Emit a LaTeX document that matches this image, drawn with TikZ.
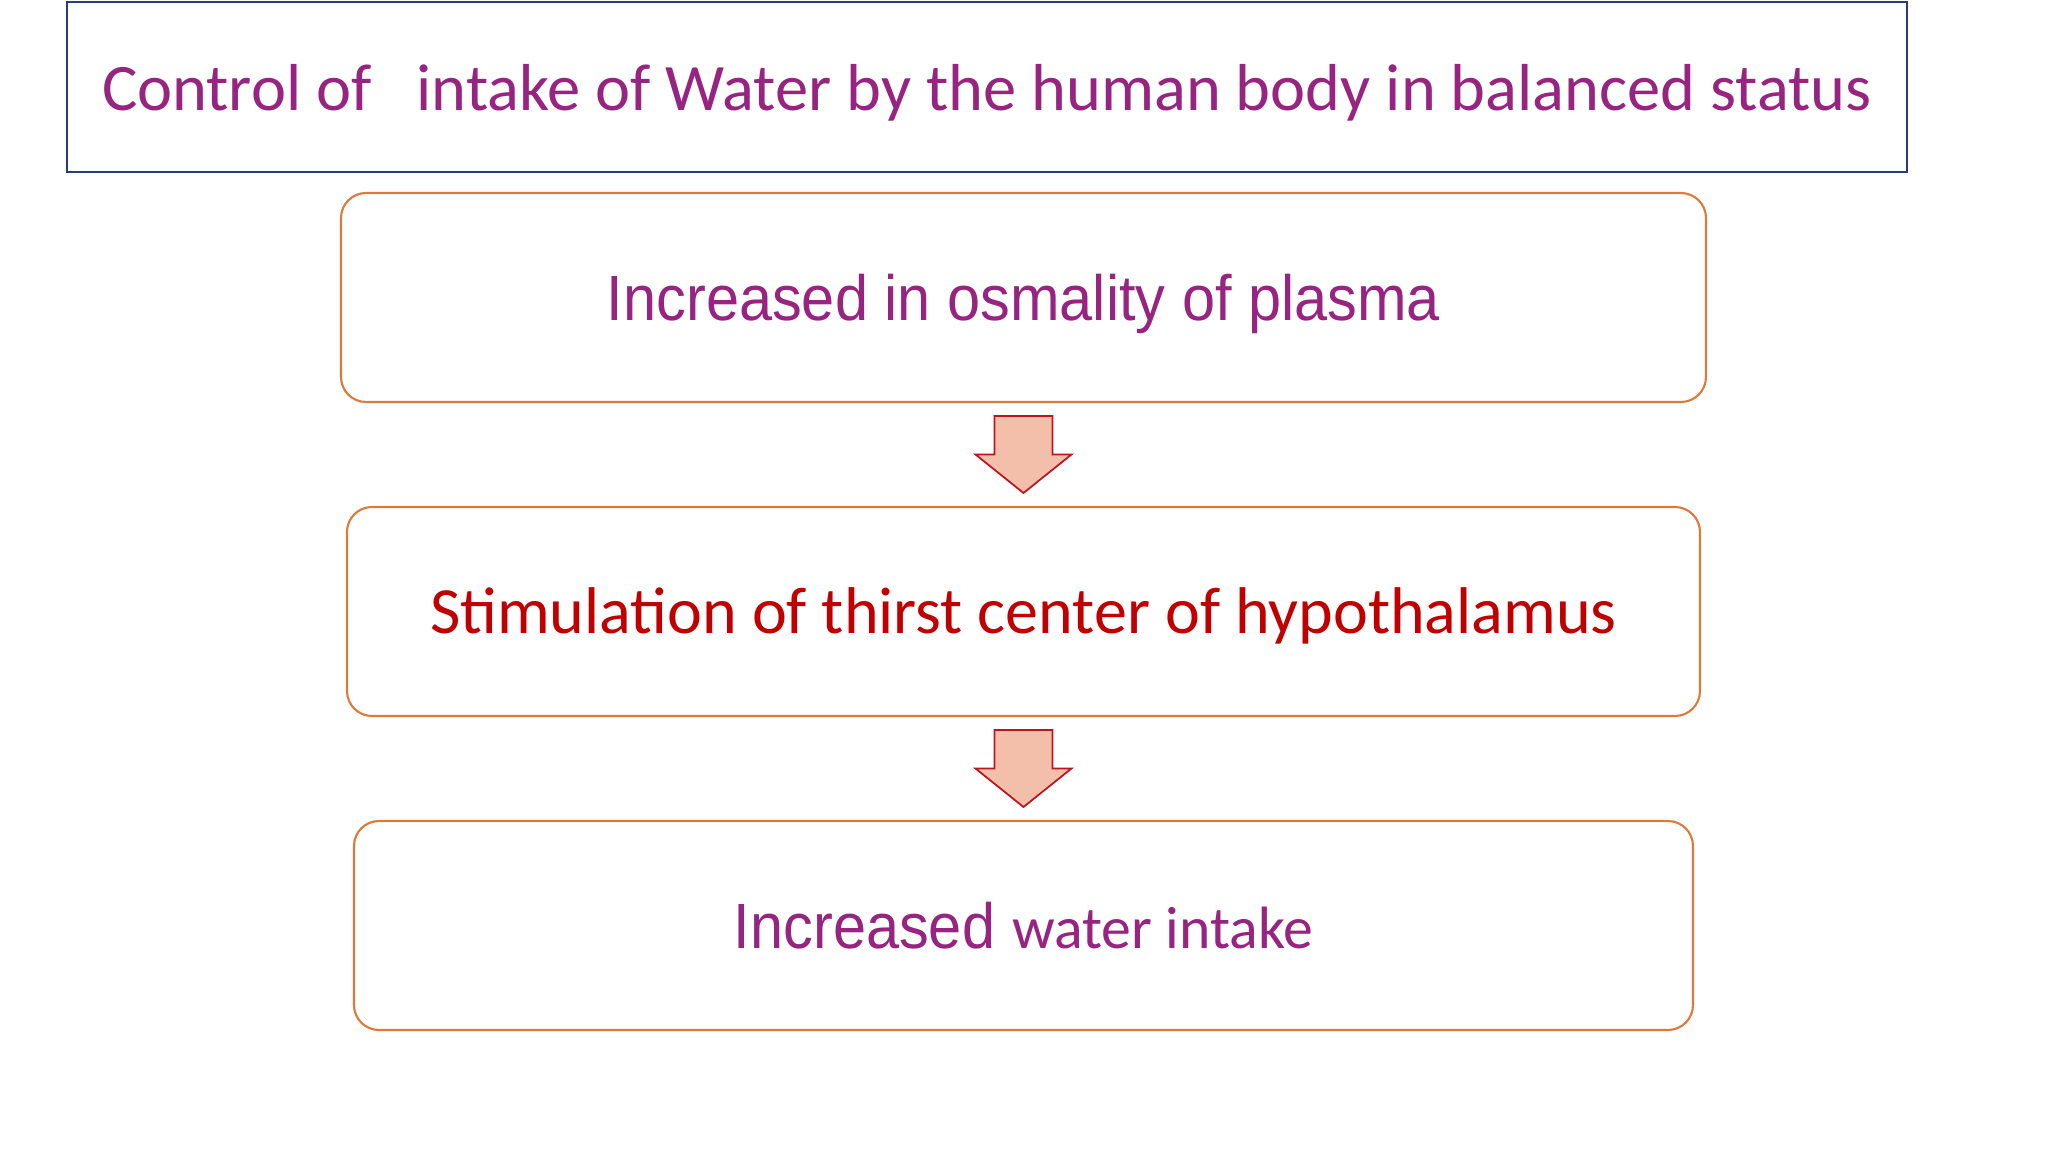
\documentclass[tikz,border=0pt]{standalone}
\usepackage{fontspec}
\setmainfont{Carlito}
\newfontfamily\arialn[FakeStretch=0.93]{Liberation Sans}
\usetikzlibrary{calc}
\definecolor{titlepurple}{RGB}{150,36,128}
\definecolor{boxorange}{RGB}{220,122,58}
\definecolor{titleblue}{RGB}{40,60,120}
\definecolor{stimred}{RGB}{192,0,0}
\definecolor{arrowfill}{RGB}{243,190,170}
\definecolor{arrowline}{RGB}{190,20,30}
\tikzset{
	titlebox/.style={draw=titleblue, line width=0.6pt, minimum width=18.4cm, minimum height=1.7cm, inner sep=0pt, text height=0.47cm, text depth=0pt},
	stepbox/.style={draw=boxorange, line width=0.6pt, rounded corners=0.25cm, minimum height=2.09cm, inner sep=0pt, text height=0.46cm, text depth=0pt},
	downarrow/.style={draw=arrowline, fill=arrowfill, line width=0.5pt, line join=miter}
}
\newcommand{\blockarrow}[1]{\draw[downarrow, shift={(#1)}] (-0.29,0.385) -- (0.29,0.385) -- (0.29,0) -- (0.48,0) -- (0,-0.385) -- (-0.48,0) -- (-0.29,0) -- cycle;}

\begin{document}
\begin{tikzpicture}
	\useasboundingbox[fill=white] (0,0) rectangle (20.48,-11.52);
	
	\node[titlebox, text=titlepurple, font=\fontsize{18.9pt}{22pt}\selectfont] (title) at (9.87,-0.87) {Control of\hspace*{0.45cm}intake of Water by the human body in balanced status};
	
	\node[stepbox, minimum width=13.65cm, text=titlepurple, font=\arialn\fontsize{18.2pt}{22pt}\selectfont] (osmal) at (10.235,-2.975) {Increased in osmality of plasma};
	\node[stepbox, minimum width=13.53cm, text=stimred, font=\fontsize{18.8pt}{22pt}\selectfont, text height=0.44cm] (thirst) at (10.235,-6.115) {Stimulation of thirst center of hypothalamus};
	\node[stepbox, minimum width=13.39cm, text=titlepurple] (intake) at (10.235,-9.255) {{\arialn\fontsize{18.2pt}{22pt}\selectfont Increased}\hspace*{0.17cm}{\fontsize{17pt}{20pt}\selectfont water intake}};
	
	\coordinate (a1) at ($(osmal.south)!0.5!(thirst.north)$);
	\coordinate (a2) at ($(thirst.south)!0.5!(intake.north)$);
	\blockarrow{a1}
	\blockarrow{a2}
\end{tikzpicture}
\end{document}
